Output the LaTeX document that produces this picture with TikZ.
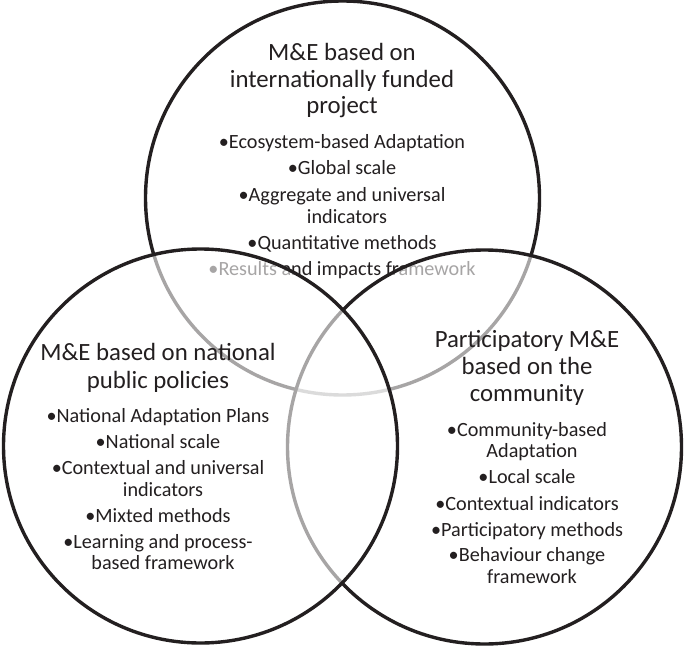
\documentclass[tikz,border=0pt]{standalone}
\usepackage{fontspec}
\setmainfont{Carlito}
\definecolor{txt}{HTML}{231F20}
\begin{document}
\begin{tikzpicture}[x=1pt,y=-1pt,
  ring/.style={line width=3.4pt, draw=txt, fill=white, fill opacity=0.6, draw opacity=1},
  ttl/.style={anchor=base, font=\fontsize{24.8}{26}\selectfont, text=txt, inner sep=0pt},
  itm/.style={anchor=base, font=\fontsize{20.2}{21}\selectfont, text=txt, inner sep=0pt}]
\useasboundingbox (0,0) rectangle (685,647);
\coordinate (ct) at (342.5,198);
\coordinate (cr) at (484.5,447);
\coordinate (cl) at (200.5,446);
% top circle
\draw[ring] (ct) circle[radius=197pt];
\node[ttl] (t1) at (342,61) {M\&E based on};
\node[ttl] (t2) at (342,87.5) {internationally funded};
\node[ttl] (t3) at (342,114) {project};
\node[itm] (t4) at (342,149) {•Ecosystem-based Adaptation};
\node[itm] (t5) at (342,175) {•Global scale};
\node[itm] (t6) at (342,201) {•Aggregate and universal};
\node[itm] (t7) at (347,223) {indicators};
\node[itm] (t8) at (342,249) {•Quantitative methods};
\node[itm] (t9) at (342,275) {•Results and impacts framework};
% right circle
\draw[ring] (cr) circle[radius=197pt];
\node[ttl] (r1) at (527,347) {Participatory M\&E};
\node[ttl] (r2) at (527,374) {based on the};
\node[ttl] (r3) at (527,401) {community};
\node[itm] (r4) at (527,436) {•Community-based};
\node[itm] (r5) at (532,457) {Adaptation};
\node[itm] (r6) at (527,483) {•Local scale};
\node[itm] (r7) at (527,510) {•Contextual indicators};
\node[itm] (r8) at (527,536) {•Participatory methods};
\node[itm] (r9) at (527,561) {•Behaviour change};
\node[itm] (r10) at (532,583) {framework};
% left circle
\draw[ring] (cl) circle[radius=197pt];
\node[ttl] (l1) at (158,360) {M\&E based on national};
\node[ttl] (l2) at (158,388) {public policies};
\node[itm] (l3) at (158,422) {•National Adaptation Plans};
\node[itm] (l4) at (158,448) {•National scale};
\node[itm] (l5) at (158,474) {•Contextual and universal};
\node[itm] (l6) at (163,496) {indicators};
\node[itm] (l7) at (158,522) {•Mixted methods};
\node[itm] (l8) at (158,548) {•Learning and process-};
\node[itm] (l9) at (163,569) {based framework};
\end{tikzpicture}
\end{document}
